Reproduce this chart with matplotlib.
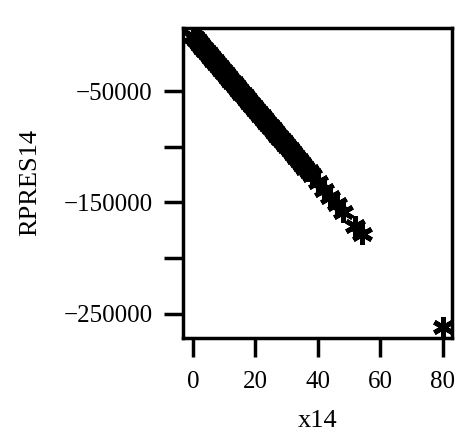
import matplotlib
matplotlib.use("Agg")
import matplotlib.pyplot as plt

x14 = [0, 0.5, 1, 1.5, 2, 2.5, 3, 3.5, 4, 4.5, 5, 5.5, 6, 6.5, 7, 7.5, 8, 8.5, 9, 9.5,
       10, 10.5, 11, 11.5, 12, 12.5, 13, 13.5, 14, 14.5, 15, 15.5, 16, 16.5, 17, 17.5,
       18, 18.5, 19, 19.5, 20, 20.5, 21, 21.5, 22, 22.5, 23, 23.5, 24, 24.5, 25, 25.5,
       26, 26.5, 27, 27.5, 28, 28.5, 29, 29.5, 30, 31, 32, 33, 34, 35, 36, 37, 38,
       40, 42, 44, 46, 48, 52, 54, 80]
rpres14 = [0, -1650, -3300, -4950, -6600, -8250, -9900, -11550, -13200, -14850, -16500,
           -18150, -19800, -21450, -23100, -24750, -26400, -28050, -29700, -31350, -33000,
           -34650, -36300, -37950, -39600, -41250, -42900, -44550, -46200, -47850, -49500,
           -51150, -52800, -54450, -56100, -57750, -59400, -61050, -62700, -64350, -66000,
           -67650, -69300, -70950, -72600, -74250, -75900, -77550, -79200, -80850, -82500,
           -84150, -85800, -87450, -89100, -90750, -92400, -94050, -95700, -97350, -99000,
           -102300, -105600, -108900, -112200, -115500, -118800, -122100, -125400, -132000,
           -138600, -145200, -151800, -158400, -171600, -178000, -262000]

plt.rcParams['font.family'] = ['Liberation Serif', 'DejaVu Serif']
fig = plt.figure(figsize=(4.74, 4.42), dpi=100)
ax = fig.add_axes([183/474, 1-338/442, (452-183)/474, (338-28)/442])
ax.plot(x14, rpres14, linestyle='none', marker=(6, 2, 0), markersize=15,
        markeredgewidth=3.5, color='black')
ax.set_xlim(-3.2, 82.9)
ax.set_ylim(-272000, 7000)
ax.set_xticks([0, 20, 40, 60, 80])
ax.set_yticks([-50000, -100000, -150000, -200000, -250000])
ax.set_yticklabels(['\u221250000', '', '\u2212150000', '', '\u2212250000'])
for s in ax.spines.values():
    s.set_linewidth(2.5)
ax.tick_params(width=2.5, length=14, labelsize=18)
ax.tick_params(axis='x', pad=10)
ax.tick_params(axis='y', pad=8)
ax.set_xlabel('x14', fontsize=19, labelpad=12)
ax.set_ylabel('RPRES14', fontsize=19, labelpad=16)
fig.savefig('out.png', dpi=100)
